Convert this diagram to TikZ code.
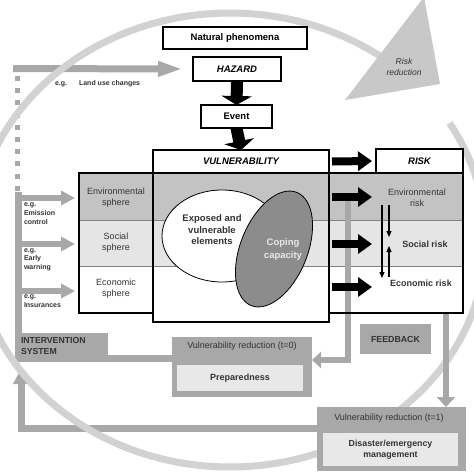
\documentclass[tikz,border=0pt]{standalone}
\usepackage{fontspec}
\setmainfont{Liberation Sans}
\usetikzlibrary{arrows.meta,shapes.geometric}
\definecolor{arcgray}{HTML}{D2D2D2}
\definecolor{trigray}{HTML}{C8C8C8}
\definecolor{bargray}{HTML}{A8A8A8}
\definecolor{envband}{HTML}{C3C3C3}
\definecolor{socband}{HTML}{E5E5E5}
\definecolor{innergray}{HTML}{E8E8E8}
\definecolor{copegray}{HTML}{8C8C8C}
\definecolor{darktext}{HTML}{333333}
\begin{document}
\begin{tikzpicture}[x=1pt,y=-1pt,
  base/.style={inner sep=0pt, outer sep=0pt},
  blkbox/.style={base, draw=black, line width=1.8pt, fill=white, anchor=north west},
  graybox/.style={base, fill=bargray, anchor=north west},
  innerbox/.style={base, fill=innergray, anchor=north west},
  lbl/.style={base, align=center, font=\fontsize{9}{11}\selectfont, text=darktext},
  blbl/.style={base, align=center, font=\bfseries\fontsize{9}{11}\selectfont, text=darktext},
  small/.style={base, align=left, anchor=north west, font=\bfseries\fontsize{7}{9}\selectfont, text=darktext},
  blkarrow/.style={draw=black, line width=8pt, -{Triangle[length=14pt,width=19pt]}},
  blkdown/.style={draw=black, line width=12pt, -{Triangle[length=9pt,width=30pt]}},
  grayarrow/.style={draw=bargray, line width=7pt, -{Triangle[length=15pt,width=15pt]}},
  thinarrow/.style={draw=black, line width=1.1pt, -{Triangle[length=6pt,width=5pt]}},
]
\useasboundingbox (0,0) rectangle (474,474);
\fill[white] (0,0) rectangle (474,474);

% ---- intervention frame (left, bottom)
\node[graybox, minimum width=93pt, minimum height=29pt] (iv) at (15,333) {};
\coordinate (dotTop) at (17.5,76);
\coordinate (dotBot) at (17.5,192);
\coordinate (barTop) at (18.5,192);
\draw[bargray, line width=5pt, dash pattern=on 5pt off 7.2pt] (dotTop) -- (dotBot);
\draw[bargray, line width=7pt] (barTop) -- (iv.north -| barTop);

\coordinate (yEnv) at (15,198);
\coordinate (ySoc) at (15,244);
\coordinate (yEco) at (15,291);
\coordinate (tEnv) at (75,198);
\coordinate (tSoc) at (75,244);
\coordinate (tEco) at (75,291);
\draw[grayarrow, line width=6pt, -{Triangle[length=14pt,width=14pt]}] (yEnv) -- (tEnv);
\draw[grayarrow, line width=6pt, -{Triangle[length=14pt,width=14pt]}] (ySoc) -- (tSoc);
\draw[grayarrow, line width=6pt, -{Triangle[length=14pt,width=14pt]}] (yEco) -- (tEco);

\node[graybox, minimum width=149pt, minimum height=64pt] (t1) at (317,407) {};
\node[graybox, minimum width=140pt, minimum height=60pt] (t0) at (172,337) {};
\coordinate (hb) at (0,358.5);
\draw[bargray, line width=7pt] (iv.east |- hb) -- (t0.west |- hb);
\coordinate (bb) at (21,428.5);
\coordinate (upTip) at (21,369);
\draw[grayarrow, line join=miter] (t1.west |- bb) -- (bb) -- (upTip);

% top box and land-use arrow
\node[blkbox, minimum width=88pt, minimum height=24pt, font=\bfseries\itshape\fontsize{9.5}{11}\selectfont] (haz) at (193,57) {HAZARD};
\coordinate (luStart) at (13,68.5);
\draw[grayarrow, line width=7pt, -{Triangle[length=25pt,width=14pt]}] (luStart) -- ([xshift=-10pt]haz.west);

% ---- big cycle arc
\draw[arcgray, line width=7pt] plot[domain=-31:310, samples=150, smooth] ({230+256*cos(\x)},{240+227*sin(\x)});
\fill[trigray] (424,-3) -- (345,100) -- (440,84) -- cycle;
\node[base, align=center, font=\itshape\fontsize{8.5}{10.5}\selectfont, text=darktext] (rr) at (404,67) {Risk\\reduction};

% ---- lower boxes
\node[graybox, minimum width=149pt, minimum height=64pt] (t1b) at (317,407) {};
\node[innerbox, minimum width=135pt, minimum height=33pt, align=center, font=\bfseries\fontsize{8.8}{11}\selectfont, text=darktext] (dis) at (323,433) {Disaster/emergency\\management};
\node[lbl] (t1t) at (389,418) {Vulnerability reduction (t=1)};
\node[innerbox, minimum width=126pt, minimum height=26pt, font=\bfseries\fontsize{9}{11}\selectfont, text=darktext] (prep) at (177,365) {Preparedness};
\node[lbl] (t0t) at (242,346) {Vulnerability reduction (t=0)};
\node[graybox, minimum width=71pt, minimum height=30pt, font=\bfseries\fontsize{8.8}{11}\selectfont, text=darktext] (fb) at (360,324) {FEEDBACK};
\node[small, font=\bfseries\fontsize{8.7}{11}\selectfont] (ivt) at (21,337) {INTERVENTION\\SYSTEM};

% ---- bands
\fill[envband] (79,173) rectangle (463,220);
\fill[socband] (79,220) rectangle (463,266);
\draw[gray, line width=0.5pt] (79,220) -- (463,220) (79,266) -- (463,266);

% ---- feedback bars
\coordinate (fbTop) at (348,200);
\coordinate (fbCorner) at (348,360);
\draw[grayarrow, line width=6pt, line join=miter, -{Triangle[length=9pt,width=16pt]}] (fbTop) -- (fbCorner) -- (t0.east |- fbCorner);
\coordinate (fbx) at (446,313);
\draw[grayarrow, line width=6pt, -{Triangle[length=10pt,width=18pt]}] (fbx) -- (t1b.north -| fbx);

% ---- main outlines
\node[blkbox, fill=none, minimum width=74pt, minimum height=140pt] (sph) at (79,173) {};
\node[blkbox, minimum width=176pt, minimum height=23pt, font=\bfseries\itshape\fontsize{9.5}{11}\selectfont] (vul) at (153,150) {VULNERABILITY};
\node[blkbox, fill=none, minimum width=176pt, minimum height=149pt] (vulb) at (153,173) {};
\node[blkbox, minimum width=87pt, minimum height=24pt, font=\bfseries\itshape\fontsize{9.5}{11}\selectfont] (risk) at (376,149) {RISK};
\node[blkbox, fill=none, minimum width=134pt, minimum height=140pt] (riskb) at (329,173) {};

% ---- ellipses
\node[ellipse, draw=black, line width=0.8pt, fill=white, minimum width=120pt, minimum height=92pt, inner sep=0pt] (expo) at (222,236) {};
\node[blbl, font=\bfseries\fontsize{9.5}{11.5}\selectfont] (expot) at (212,230) {Exposed and\\vulnerable\\elements};
\node[ellipse, draw=black, line width=0.8pt, fill=copegray, minimum width=67pt, minimum height=122pt, rotate=-22, inner sep=0pt] (cope) at (274,249) {};
\node[blbl, text=innergray, font=\bfseries\fontsize{9.5}{13}\selectfont] (copet) at (283,250) {Coping\\capacity};

% ---- texts in bands
\node[lbl] (envs) at (116,198) {Environmental\\sphere};
\node[lbl] (socs) at (116,243) {Social\\sphere};
\node[lbl] (ecos) at (116,289) {Economic\\sphere};
\node[lbl] (envr) at (417,198) {Environmental\\risk};
\node[blbl] (socr) at (425,244) {Social risk};
\node[blbl] (ecor) at (421,283) {Economic risk};

\node[small] (eg1) at (24,203) {e.g.\\Emission\\control};
\node[small, font=\bfseries\fontsize{7}{8.2}\selectfont] (eg2) at (24,249) {e.g.\\Early\\warning};
\node[small] (eg3) at (24,295) {e.g.\\Insurances};
\node[small, anchor=west] (lu) at (55,84) {e.g.\hspace{12pt}Land use changes};

% ---- black arrows vulnerability -> risk
\coordinate (aEnvS) at (332,197);
\coordinate (aEnvE) at (372,197);
\coordinate (aSocS) at (332,244);
\coordinate (aSocE) at (372,244);
\coordinate (aEcoS) at (332,287);
\coordinate (aEcoE) at (372,287);
\draw[blkarrow] ([xshift=3pt]vul.east) -- ([xshift=-4pt]risk.west);
\draw[blkarrow] (aEnvS) -- (aEnvE);
\draw[blkarrow] (aSocS) -- (aSocE);
\draw[blkarrow] (aEcoS) -- (aEcoE);

% ---- risk interaction arrows
\coordinate (r1a) at (382,205);
\coordinate (r1b) at (382,278);
\coordinate (r2a) at (389,205);
\coordinate (r2b) at (389,237);
\coordinate (r3a) at (389,277);
\coordinate (r3b) at (389,246);
\draw[thinarrow] (r1a) -- (r1b);
\draw[thinarrow] (r2a) -- (r2b);
\draw[thinarrow] (r3a) -- (r3b);

% ---- top chain
\node[blkbox, line width=1.5pt, minimum width=144pt, minimum height=22pt, font=\bfseries\fontsize{9.5}{11}\selectfont] (nat) at (163,27) {Natural phenomena};
\node[blkbox, minimum width=71pt, minimum height=23pt, font=\bfseries\fontsize{9.5}{11}\selectfont] (evt) at (201,105) {Event};
\draw[blkdown] (haz.south) -- (evt.north);
\draw[blkdown] (evt.south) -- (vul.north);
\end{tikzpicture}
\end{document}
